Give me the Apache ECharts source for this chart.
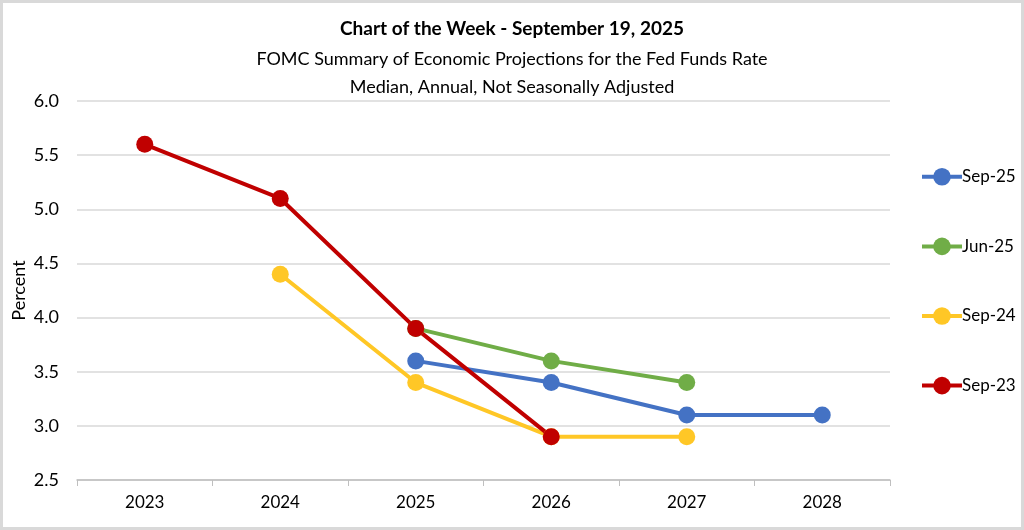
<!DOCTYPE html>
<html><head><meta charset="utf-8">
<script src="https://cdn.jsdelivr.net/npm/echarts@6/dist/echarts.min.js"></script>
<style>html,body{margin:0;padding:0;background:#fff}#c{width:1024px;height:530px;box-sizing:border-box;border:3px solid #d9d9d9}</style>
</head><body><div id="c"></div>
<script>
const years = ['2023','2024','2025','2026','2027','2028'];
const sep25 = [null, null, 3.6, 3.4, 3.1, 3.1];
const jun25 = [null, null, 3.9, 3.6, 3.4, null];
const sep24 = [null, 4.4, 3.4, 2.9, 2.9, null];
const sep23 = [5.6, 5.1, 3.9, 2.9, null, null];
const F = 'Lato, "Open Sans", sans-serif';
const chart = echarts.init(document.getElementById('c'));
function s(name, data, color){
  return {name, type:'line', data, symbol:'circle', symbolSize:17,
    lineStyle:{width:4,color}, itemStyle:{color}, connectNulls:false};
}
chart.setOption({
  animation:false,
  title:{text:'Chart of the Week - September 19, 2025',
    subtext:'FOMC Summary of Economic Projections for the Fed Funds Rate\nMedian, Annual, Not Seasonally Adjusted',
    left:'center', top:11, itemGap:7,
    textStyle:{fontFamily:F,fontSize:19,fontWeight:'bold',color:'#000'},
    subtextStyle:{fontFamily:F,fontSize:18,color:'#000',lineHeight:28}},
  legend:{orient:'vertical', left:912, top:160, itemGap:52, itemWidth:40, itemHeight:22,
    lineStyle:{width:4},
    textStyle:{fontFamily:F,fontSize:17,color:'#000',padding:[0,0,0,-5]},
    data:['Sep-25','Jun-25','Sep-24','Sep-23']},
  grid:{left:74,right:131,top:98,bottom:47,outerBoundsMode:'none',containLabel:false},
  xAxis:{type:'category', data:years, boundaryGap:true,
    axisLine:{lineStyle:{color:'#bfbfbf',width:1.5}},
    axisTick:{show:true,length:6,lineStyle:{color:'#bfbfbf'}},
    axisLabel:{fontFamily:F,fontSize:17,color:'#000',margin:14}},
  yAxis:{type:'value', min:2.5, max:6.0, interval:0.5,
    name:'Percent', nameLocation:'middle', nameGap:49, nameRotate:90, nameMoveOverlap:false,
    nameTextStyle:{fontFamily:F,fontSize:18,color:'#000'},
    axisLine:{show:false}, axisTick:{show:false},
    splitLine:{lineStyle:{color:'#d9d9d9',width:1.5}},
    axisLabel:{fontFamily:F,fontSize:18,color:'#000',margin:18,formatter:v=>v.toFixed(1)}},
  series:[s('Sep-25',sep25,'#4472C4'),s('Jun-25',jun25,'#70AD47'),s('Sep-24',sep24,'#FFC726'),s('Sep-23',sep23,'#C00000')]
});
</script></body></html>
